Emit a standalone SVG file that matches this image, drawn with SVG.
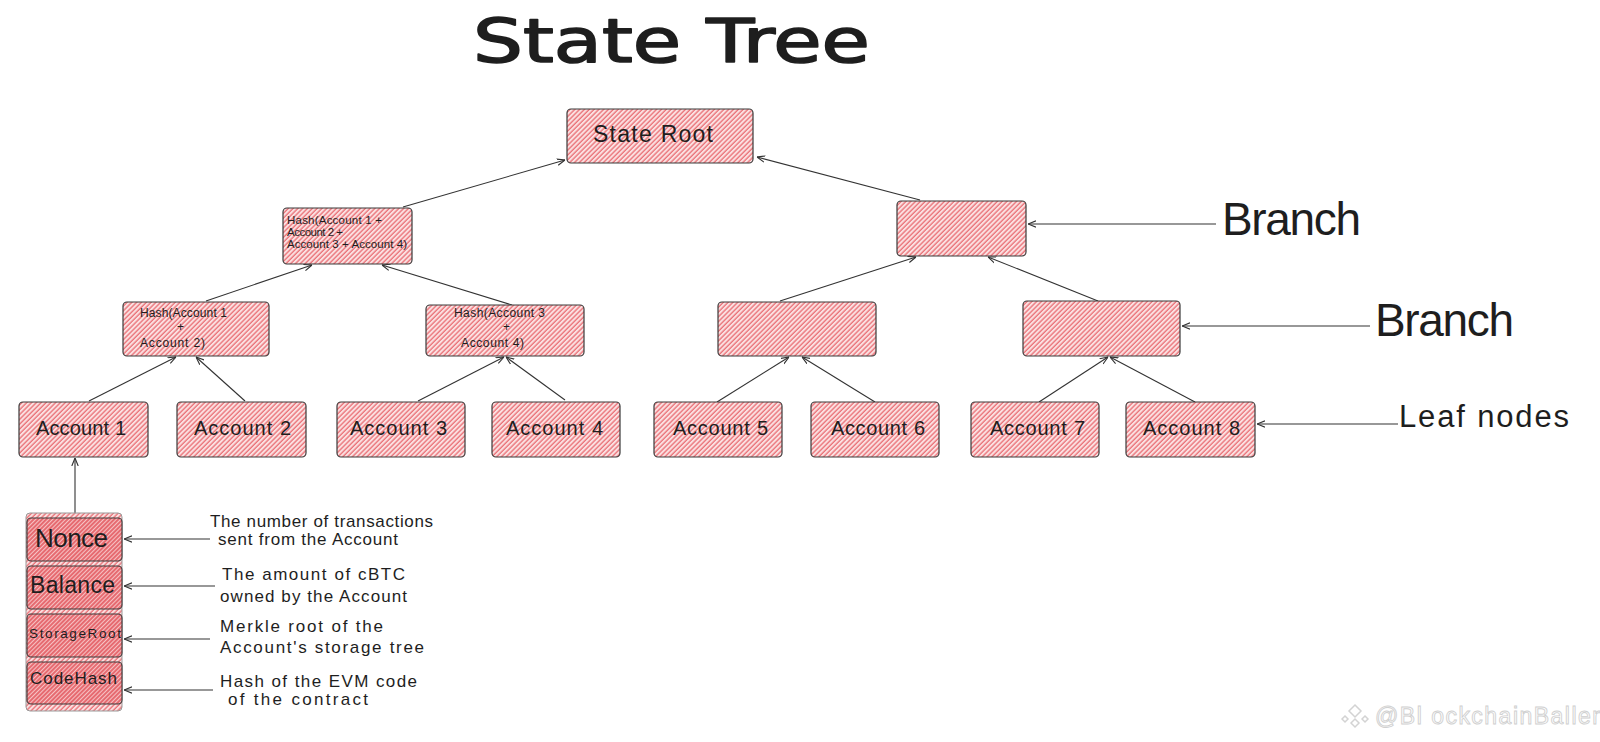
<svg xmlns="http://www.w3.org/2000/svg" width="1600" height="742" viewBox="0 0 1600 742">
<style>
.t{font-family:"Liberation Sans",Arial,sans-serif;fill:#1e1e1e}
.box{fill:url(#hatch);stroke:#3a3a3a;stroke-width:1.2}
.fbox{fill:url(#hatch2);stroke:#3a3a3a;stroke-width:1.1}
.con{stroke:#333;stroke-width:1.1;fill:none;marker-end:url(#arr)}
</style>
<defs>
<pattern id="hatch" patternUnits="userSpaceOnUse" width="3.4" height="3.4" patternTransform="rotate(45)">
<rect width="3.4" height="3.4" fill="#fbe0e1"/>
<line x1="1" y1="0" x2="1" y2="3.4" stroke="#e8646b" stroke-width="1.2"/>
</pattern>
<pattern id="hatch2" patternUnits="userSpaceOnUse" width="3" height="3" patternTransform="rotate(45)">
<rect width="3" height="3" fill="#f6c2c4"/>
<line x1="1" y1="0" x2="1" y2="3" stroke="#de3b43" stroke-width="1.3"/>
</pattern>
<marker id="arr" viewBox="0 0 10 10" refX="10" refY="5" markerWidth="8" markerHeight="8" markerUnits="userSpaceOnUse" orient="auto">
<path d="M0,1 L10,5 L0,9" fill="none" stroke="#333" stroke-width="1.4"/>
</marker>
</defs>
<rect width="1600" height="742" fill="#ffffff"/>

<g id="title"><text x="473" y="62" font-family="DejaVu Sans, Verdana, sans-serif" font-size="60" fill="#1e1e1e" stroke="#1e1e1e" stroke-width="1.6" stroke-linejoin="round" textLength="397" lengthAdjust="spacingAndGlyphs">State Tree</text></g>

<g id="connectors">
<line class="con" x1="403" y1="207" x2="565" y2="160"/>
<line class="con" x1="920" y1="200" x2="757" y2="157"/>
<line class="con" x1="206" y1="301" x2="312" y2="265"/>
<line class="con" x1="512" y1="305" x2="382" y2="265"/>
<line class="con" x1="780" y1="301" x2="916" y2="257"/>
<line class="con" x1="1098" y1="301" x2="988" y2="257"/>
<line class="con" x1="89" y1="401" x2="176" y2="357"/>
<line class="con" x1="245" y1="401" x2="196" y2="357"/>
<line class="con" x1="418" y1="401" x2="504" y2="357"/>
<line class="con" x1="565" y1="400" x2="506" y2="357"/>
<line class="con" x1="717" y1="402" x2="789" y2="357"/>
<line class="con" x1="875" y1="402" x2="802" y2="357"/>
<line class="con" x1="1039" y1="402" x2="1108" y2="357"/>
<line class="con" x1="1195" y1="402" x2="1110" y2="357"/>
<line class="con" x1="1216" y1="224" x2="1028" y2="224"/>
<line class="con" x1="1370" y1="326" x2="1182" y2="326"/>
<line class="con" x1="1398" y1="424" x2="1257" y2="424"/>
<line class="con" x1="75" y1="513" x2="75" y2="458"/>
<line class="con" x1="210" y1="539" x2="124" y2="539"/>
<line class="con" x1="215" y1="586" x2="124" y2="586"/>
<line class="con" x1="210" y1="639" x2="124" y2="639"/>
<line class="con" x1="213" y1="690" x2="124" y2="690"/>
</g>

<g id="root"><rect class="box" x="567" y="109" width="186" height="54" rx="4"/>
<text class="t" x="593" y="142" font-size="23" textLength="120">State Root</text></g>

<g id="hash1234"><rect class="box" x="283" y="208" width="129" height="56" rx="4"/>
<text class="t" font-size="11.5">
<tspan x="287" y="224" textLength="95">Hash(Account 1 +</tspan>
<tspan x="287" y="236" textLength="56">Account 2 +</tspan>
<tspan x="287" y="248" textLength="120">Account 3 + Account 4)</tspan></text></g>

<g id="branch5678"><rect class="box" x="897" y="201" width="129" height="55" rx="4"/></g>

<g id="hash12"><rect class="box" x="123" y="302" width="146" height="54" rx="4"/>
<text class="t" font-size="12">
<tspan x="140" y="317" textLength="87">Hash(Account 1</tspan>
<tspan x="177" y="331">+</tspan>
<tspan x="140" y="347" textLength="65">Account 2)</tspan></text></g>

<g id="hash34"><rect class="box" x="426" y="305" width="158" height="51" rx="4"/>
<text class="t" font-size="12">
<tspan x="454" y="317" textLength="91">Hash(Account 3</tspan>
<tspan x="503" y="331">+</tspan>
<tspan x="461" y="347" textLength="63">Account 4)</tspan></text></g>

<g id="branch56"><rect class="box" x="718" y="302" width="158" height="54" rx="4"/></g>
<g id="branch78"><rect class="box" x="1023" y="301" width="157" height="55" rx="4"/></g>

<g id="account1"><rect class="box" x="19" y="402" width="129" height="55" rx="4"/><text class="t" x="36" y="435" font-size="20" textLength="90">Account 1</text></g>
<g id="account2"><rect class="box" x="177" y="402" width="129" height="55" rx="4"/><text class="t" x="194" y="435" font-size="20" textLength="97">Account 2</text></g>
<g id="account3"><rect class="box" x="337" y="402" width="128" height="55" rx="4"/><text class="t" x="350" y="435" font-size="20" textLength="97">Account 3</text></g>
<g id="account4"><rect class="box" x="492" y="402" width="128" height="55" rx="4"/><text class="t" x="506" y="435" font-size="20" textLength="97">Account 4</text></g>
<g id="account5"><rect class="box" x="654" y="402" width="128" height="55" rx="4"/><text class="t" x="673" y="435" font-size="20" textLength="95">Account 5</text></g>
<g id="account6"><rect class="box" x="811" y="402" width="128" height="55" rx="4"/><text class="t" x="831" y="435" font-size="20" textLength="94">Account 6</text></g>
<g id="account7"><rect class="box" x="971" y="402" width="128" height="55" rx="4"/><text class="t" x="990" y="435" font-size="20" textLength="95">Account 7</text></g>
<g id="account8"><rect class="box" x="1126" y="402" width="129" height="55" rx="4"/><text class="t" x="1143" y="435" font-size="20" textLength="97">Account 8</text></g>

<g id="label-branch1"><text class="t" x="1222" y="235" font-size="46" textLength="139">Branch</text></g>
<g id="label-branch2"><text class="t" x="1375" y="336" font-size="46" textLength="139">Branch</text></g>
<g id="label-leaf"><text class="t" x="1399" y="427" font-size="31" textLength="170">Leaf nodes</text></g>

<g id="account-fields">
<rect x="26" y="513" width="96" height="198" rx="4" fill="url(#hatch)" stroke="#999" stroke-width="1"/>
<rect class="fbox" x="27" y="518" width="95" height="43" rx="4"/>
<rect class="fbox" x="27" y="566" width="95" height="43" rx="4"/>
<rect class="fbox" x="27" y="614" width="95" height="43" rx="4"/>
<rect class="fbox" x="27" y="662" width="95" height="42" rx="4"/>
<text class="t" x="35" y="547" font-size="26" textLength="73">Nonce</text>
<text class="t" x="30" y="593" font-size="23" textLength="85">Balance</text>
<text class="t" x="29" y="638" font-size="13.5" textLength="92">StorageRoot</text>
<text class="t" x="30" y="684" font-size="17" textLength="87">CodeHash</text>
</g>

<g id="field-notes">
<text class="t" font-size="17"><tspan x="210" y="527" textLength="223">The number of transactions</tspan><tspan x="218" y="545" textLength="180">sent from the Account</tspan></text>
<text class="t" font-size="17"><tspan x="222" y="580" textLength="183">The amount of cBTC</tspan><tspan x="220" y="602" textLength="187">owned by the Account</tspan></text>
<text class="t" font-size="17"><tspan x="220" y="632" textLength="163">Merkle root of the</tspan><tspan x="220" y="653" textLength="204">Account's storage tree</tspan></text>
<text class="t" font-size="17"><tspan x="220" y="687" textLength="197">Hash of the EVM code</tspan><tspan x="228" y="705" textLength="140">of the contract</tspan></text>
</g>

<g id="watermark" opacity="0.85">
<g fill="none" stroke="#cccccc" stroke-width="1.5">
<path d="M1355,705 l6,6 l-6,6 l-6,-6 z"/>
<path d="M1345,716 l3,3 l-3,3 l-3,-3 z"/>
<path d="M1365,716 l3,3 l-3,3 l-3,-3 z"/>
<path d="M1355,719 l4,4 l-4,4 l-4,-4 z"/>
</g>
<text x="1375" y="724" font-family="Liberation Sans, Arial, sans-serif" font-size="23" fill="#ffffff" stroke="#c8c8c8" stroke-width="0.9" textLength="225">@Bl ockchainBaller</text>
</g>
</svg>
